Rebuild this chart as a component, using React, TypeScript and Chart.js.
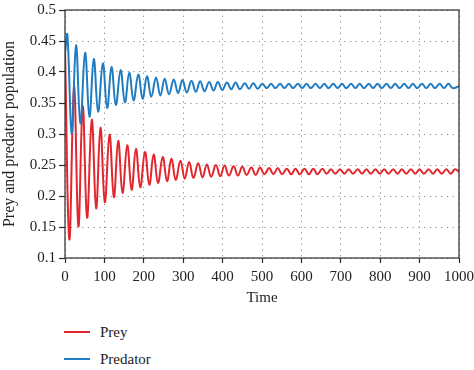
import React, { useEffect, useRef } from "react";
import { Chart, registerables } from "chart.js";

Chart.register(...registerables);

// Time axis ticks
const xTicks = [0, 100, 200, 300, 400, 500, 600, 700, 800, 900, 1000];
const yTicks = [0.1, 0.15, 0.2, 0.25, 0.3, 0.35, 0.4, 0.45, 0.5];

const preyTime = [
  0, 11, 23, 34, 45, 56, 68, 79, 90, 101,
  113, 124, 135, 146, 158, 169, 180, 191, 203, 214,
  225, 236, 248, 259, 270, 281, 293, 304, 315, 326,
  338, 349, 360, 371, 383, 394, 405, 416, 428, 439,
  450, 461, 473, 484, 495, 506, 518, 529, 540, 551,
  563, 574, 585, 596, 608, 619, 630, 641, 653, 664,
  675, 686, 698, 709, 720, 731, 743, 754, 765, 776,
  788, 799, 810, 821, 833, 844, 855, 866, 878, 889,
  900, 911, 923, 934, 945, 956, 968, 979, 990, 1000,
];
const preyValues = [
  0.435, 0.130, 0.377, 0.151, 0.345, 0.165, 0.323, 0.180, 0.310, 0.190,
  0.299, 0.198, 0.289, 0.205, 0.282, 0.210, 0.276, 0.214, 0.271, 0.218,
  0.267, 0.221, 0.263, 0.224, 0.260, 0.226, 0.257, 0.228, 0.255, 0.229,
  0.253, 0.230, 0.251, 0.231, 0.250, 0.232, 0.249, 0.233, 0.248, 0.233,
  0.247, 0.234, 0.246, 0.234, 0.246, 0.235, 0.245, 0.235, 0.245, 0.235,
  0.244, 0.235, 0.244, 0.235, 0.244, 0.235, 0.244, 0.235, 0.244, 0.236,
  0.243, 0.236, 0.243, 0.236, 0.243, 0.236, 0.243, 0.236, 0.243, 0.236,
  0.243, 0.236, 0.243, 0.236, 0.243, 0.236, 0.243, 0.236, 0.243, 0.236,
  0.243, 0.236, 0.243, 0.236, 0.243, 0.236, 0.243, 0.236, 0.243, 0.239,
];

// Predator: start, then successive peaks/troughs, then end
const predatorTime = [
  0, 6, 17, 28, 39, 51, 62, 73, 84, 96,
  107, 118, 129, 141, 152, 163, 174, 186, 197, 208,
  219, 231, 242, 253, 264, 276, 287, 298, 309, 321,
  332, 343, 354, 366, 377, 388, 399, 411, 422, 433,
  444, 456, 467, 478, 489, 501, 512, 523, 534, 546,
  557, 568, 579, 591, 602, 613, 624, 636, 647, 658,
  669, 681, 692, 703, 714, 726, 737, 748, 759, 771,
  782, 793, 804, 816, 827, 838, 849, 861, 872, 883,
  894, 906, 917, 928, 939, 951, 962, 973, 984, 1000,
];
const predatorValues = [
  0.430, 0.460, 0.301, 0.443, 0.317, 0.431, 0.328, 0.421, 0.336, 0.414,
  0.342, 0.408, 0.347, 0.403, 0.351, 0.399, 0.354, 0.396, 0.357, 0.393,
  0.360, 0.391, 0.362, 0.389, 0.364, 0.388, 0.366, 0.387, 0.367, 0.386,
  0.368, 0.385, 0.369, 0.384, 0.370, 0.384, 0.371, 0.383, 0.372, 0.383,
  0.372, 0.382, 0.373, 0.382, 0.373, 0.381, 0.374, 0.381, 0.374, 0.381,
  0.374, 0.381, 0.374, 0.381, 0.374, 0.381, 0.374, 0.381, 0.374, 0.381,
  0.374, 0.381, 0.374, 0.381, 0.374, 0.381, 0.374, 0.381, 0.374, 0.381,
  0.374, 0.381, 0.374, 0.381, 0.374, 0.381, 0.374, 0.381, 0.374, 0.381,
  0.374, 0.381, 0.374, 0.381, 0.374, 0.381, 0.374, 0.381, 0.374, 0.377,
];

const seriesNames = ["Prey", "Predator"];
const PREY_COLOR = "#e3262d";
const PRED_COLOR = "#1f7cc2";
const FONT = "'Liberation Serif', 'Times New Roman', serif";

const framePlugin = {
  id: "frame",
  afterDatasetsDraw(chart: any) {
    const { ctx, chartArea } = chart;
    ctx.save();
    ctx.strokeStyle = "#2b2b2b";
    ctx.lineWidth = 1.2;
    ctx.strokeRect(chartArea.left, chartArea.top, chartArea.right - chartArea.left, chartArea.bottom - chartArea.top);
    ctx.restore();
  },
};

export default function App() {
  const ref = useRef<HTMLCanvasElement | null>(null);

  useEffect(() => {
    if (!ref.current) return;
    const chart = new Chart(ref.current, {
      type: "line",
      data: {
        datasets: [
          {
            label: seriesNames[0],
            data: preyTime.map((t, i) => ({ x: t, y: preyValues[i] })),
            borderColor: PREY_COLOR,
            borderWidth: 2,
            pointRadius: 0,
            tension: 0.4,
            fill: false,
            order: 2,
          },
          {
            label: seriesNames[1],
            data: predatorTime.map((t, i) => ({ x: t, y: predatorValues[i] })),
            borderColor: PRED_COLOR,
            borderWidth: 2,
            pointRadius: 0,
            tension: 0.4,
            fill: false,
            order: 1,
          },
        ],
      },
      options: {
        responsive: false,
        animation: false,
        devicePixelRatio: 1,
        layout: { padding: { top: 10, right: 15, left: 0, bottom: 0 } },
        plugins: { legend: { display: false }, tooltip: { enabled: false } },
        scales: {
          x: {
            type: "linear",
            min: 0,
            max: 1000,
            afterBuildTicks: (scale: any) => {
              scale.ticks = xTicks.map((v) => ({ value: v }));
            },
            afterFit: (scale: any) => {
              scale.height = 52;
              scale.paddingRight = 0;
              scale.paddingLeft = 0;
            },
            ticks: {
              color: "#222",
              font: { family: FONT, size: 15 },
              padding: 5,
              maxRotation: 0,
              autoSkip: false,
              callback: (v: any) => String(v),
            },
            grid: {
              color: "#8a8a8a",
              lineWidth: 1,
              tickColor: "#2b2b2b",
              tickLength: 5,
              tickBorderDash: [],
              tickWidth: 1.2,
            },
            border: { display: false, dash: [1.2, 4.5] },
            title: {
              display: true,
              text: "Time",
              color: "#222",
              font: { family: FONT, size: 15 },
              padding: { top: 0, bottom: 3 },
            },
          },
          y: {
            type: "linear",
            min: 0.1,
            max: 0.5,
            afterBuildTicks: (scale: any) => {
              scale.ticks = yTicks.map((v) => ({ value: v }));
            },
            afterFit: (scale: any) => {
              scale.width = 65;
              scale.paddingTop = 0;
              scale.paddingBottom = 0;
            },
            ticks: {
              color: "#222",
              font: { family: FONT, size: 15 },
              padding: 3,
              autoSkip: false,
              callback: (v: any) => String(Number(Number(v).toFixed(2))),
            },
            grid: {
              color: "#8a8a8a",
              lineWidth: 1,
              tickColor: "#2b2b2b",
              tickLength: 6,
              tickBorderDash: [],
              tickWidth: 1.2,
            },
            border: { display: false, dash: [1.2, 4.5] },
            title: {
              display: true,
              text: "Prey and predator population",
              color: "#222",
              font: { family: FONT, size: 16 },
              padding: { top: 0, bottom: 0 },
            },
          },
        },
      },
      plugins: [framePlugin],
    } as any);
    return () => chart.destroy();
  }, []);

  const legendItem = (name: string, color: string, top: number) => (
    <div key={name} style={{ position: "absolute", left: 0, top: top - 9, height: 18, width: 300 }}>
      <div style={{ position: "absolute", left: 64, top: 8, width: 26, height: 1.5, background: color }} />
      <div
        style={{
          position: "absolute",
          left: 100,
          top: 0,
          lineHeight: "18px",
          fontFamily: FONT,
          fontSize: 15,
          color: "#222",
          whiteSpace: "nowrap",
        }}
      >
        {name}
      </div>
    </div>
  );

  return (
    <div style={{ position: "absolute", left: 0, top: 0, width: 474, height: 370, background: "#fff" }}>
      <canvas ref={ref} width={474} height={310} style={{ position: "absolute", left: 0, top: 0, width: 474, height: 310 }} />
      {legendItem(seriesNames[0], PREY_COLOR, 332)}
      {legendItem(seriesNames[1], PRED_COLOR, 359)}
    </div>
  );
}
